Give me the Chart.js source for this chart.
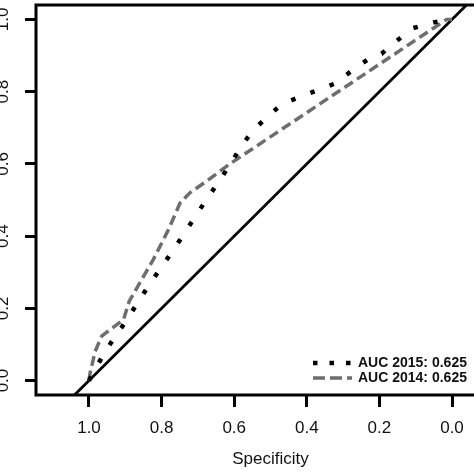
<!DOCTYPE html>
<html>
<head>
<meta charset="utf-8">
<script src="https://cdn.jsdelivr.net/npm/chart.js@4.4.1/dist/chart.umd.min.js"></script>
<style>
  html, body { margin: 0; padding: 0; background: #fff; overflow: hidden; }
  #wrap { width: 520px; height: 474px; }
</style>
</head>
<body>
<div id="wrap"><canvas id="rocChart" width="520" height="474"></canvas></div>
<script>
// ROC curves for two years, specificity axis runs from 1.0 down to 0.0
const specTicks = [0, 0.2, 0.4, 0.6, 0.8, 1.0];
const sensTicks = [0, 0.2, 0.4, 0.6, 0.8, 1.0];

const seriesLabels = ['AUC 2015: 0.625', 'AUC 2014: 0.625'];

const spec2015 = [1.0, 0.963, 0.933, 0.899, 0.868, 0.837, 0.804, 0.771, 0.739, 0.708, 0.676, 0.643,
  0.611, 0.580, 0.549, 0.507, 0.468, 0.413, 0.359, 0.321, 0.275, 0.225, 0.194, 0.151, 0.107, 0.050, 0.0];
const sens2015 = [0.0, 0.067, 0.115, 0.163, 0.212, 0.261, 0.309, 0.357, 0.405, 0.453, 0.502, 0.550,
  0.599, 0.649, 0.692, 0.732, 0.766, 0.788, 0.808, 0.823, 0.859, 0.894, 0.905, 0.942, 0.976, 0.992, 1.0];

const spec2014 = [1.0, 0.997, 0.983, 0.965, 0.905, 0.889, 0.823, 0.781, 0.749, 0.722, 0.676, 0.612, 0.015, 0.0];
const sens2014 = [0.0, 0.021, 0.081, 0.123, 0.169, 0.220, 0.335, 0.418, 0.492, 0.520, 0.552, 0.600, 1.0, 1.0];

// chance line (sens = 1 - spec), runs past the box and gets clipped
const chanceSpec = [1.3, -0.3];
const chanceSens = [-0.3, 1.3];

const FONT = '"Liberation Sans", Arial, Helvetica, sans-serif';

const toPoints = (xs, ys) => xs.map((x, i) => ({ x: x, y: ys[i] }));

/**
 * box around the plot region, like R's box()
 */
const framePlugin = {
  id: 'frame',
  afterDraw(chart) {
    const { ctx, chartArea: a } = chart;
    ctx.save();
    ctx.strokeStyle = '#000';
    ctx.lineWidth = 3;
    ctx.strokeRect(a.left, a.top, a.right - a.left, a.bottom - a.top);
    ctx.restore();
  }
};

/**
 * legend in the bottom right corner of the plot
 */
const cornerLegend = {
  id: 'cornerLegend',
  afterDraw(chart) {
    const { ctx, chartArea: a } = chart;
    const items = chart.data.datasets.filter(d => d.label);
    ctx.save();
    ctx.font = 'bold 14px ' + FONT;
    ctx.textBaseline = 'middle';
    ctx.textAlign = 'left';
    items.forEach((ds, i) => {
      const y = a.bottom - 32 + i * 15;
      ctx.beginPath();
      ctx.setLineDash(ds.legendDash || []);
      ctx.lineCap = 'butt';
      ctx.lineWidth = ds.borderWidth;
      ctx.strokeStyle = ds.borderColor;
      ctx.moveTo(a.right - 192, y);
      ctx.lineTo(a.right - 153, y);
      ctx.stroke();
      ctx.setLineDash([]);
      ctx.fillStyle = '#111';
      ctx.fillText(ds.label, a.right - 147, y);
    });
    ctx.restore();
  }
};

// drop the extra room chart.js keeps for the end labels
const noEndPadding = s => {
  s.paddingTop = 0;
  s.paddingBottom = 0;
  s.paddingLeft = 0;
  s.paddingRight = 0;
};

new Chart(document.getElementById('rocChart'), {
  type: 'line',
  data: {
    datasets: [{
      label: seriesLabels[0],
      data: toPoints(spec2015, sens2015),
      borderColor: '#000',
      borderWidth: 4.5,
      borderDash: [4.5, 16],
      borderCapStyle: 'butt',
      legendDash: [4.5, 12],
      pointRadius: 0,
      tension: 0
    }, {
      label: seriesLabels[1],
      data: toPoints(spec2014, sens2014),
      borderColor: '#6e6e6e',
      borderWidth: 3.5,
      borderDash: [10, 5],
      borderCapStyle: 'butt',
      legendDash: [12, 5],
      pointRadius: 0,
      tension: 0
    }, {
      data: toPoints(chanceSpec, chanceSens),
      borderColor: '#000',
      borderWidth: 2.8,
      pointRadius: 0,
      tension: 0
    }]
  },
  options: {
    responsive: false,
    animation: false,
    devicePixelRatio: 1,
    layout: { padding: { top: 5, right: 15, left: 0, bottom: 0 } },
    plugins: { legend: { display: false }, tooltip: { enabled: false } },
    scales: {
      x: {
        type: 'linear',
        position: 'bottom',
        reverse: true,
        min: -0.146,
        max: 1.146,
        afterBuildTicks: s => { s.ticks = specTicks.map(v => ({ value: v })); },
        afterFit: s => { s.height = 79; noEndPadding(s); },
        grid: { drawOnChartArea: false, tickLength: 12, tickWidth: 3, color: '#000' },
        border: { display: false },
        ticks: {
          autoSkip: false,
          maxRotation: 0,
          padding: 11,
          color: '#111',
          font: { family: FONT, size: 17 },
          callback: v => Number(v).toFixed(1)
        },
        title: {
          display: true,
          text: 'Specificity',
          color: '#111',
          font: { family: FONT, size: 17 },
          padding: { top: 0, bottom: 4 }
        }
      },
      y: {
        type: 'linear',
        min: -0.04,
        max: 1.04,
        afterBuildTicks: s => { s.ticks = sensTicks.map(v => ({ value: v })); },
        afterFit: s => { s.width = 36; noEndPadding(s); },
        grid: { drawOnChartArea: false, tickLength: 11, tickWidth: 3, color: '#000' },
        border: { display: false },
        ticks: {
          autoSkip: false,
          minRotation: 90,
          maxRotation: 90,
          crossAlign: 'center',
          padding: 10,
          color: '#111',
          font: { family: FONT, size: 17 },
          callback: v => Number(v).toFixed(1)
        }
      }
    }
  },
  plugins: [framePlugin, cornerLegend]
});
</script>
</body>
</html>
